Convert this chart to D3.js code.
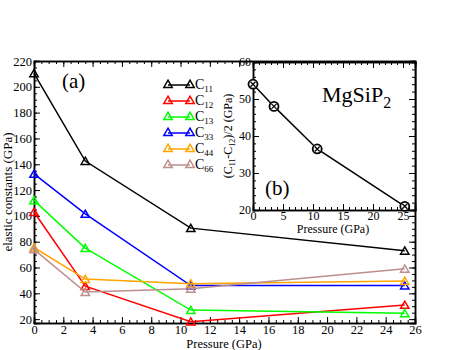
<!DOCTYPE html>
<html>
<head>
<meta charset="utf-8">
<script src="https://cdn.jsdelivr.net/npm/d3@7"></script>
<style>
  body { margin: 0; background: #fff; }
  svg, svg text { font-family: "Liberation Serif", "Times New Roman", Times, serif !important; }
</style>
</head>
<body>
<div id="chart"></div>
<script>
// main panel data (pressure in GPa, constants in GPa)
const pressure = [0, 3.5, 10.7, 25.3];
const c11 = [210.5, 142.5, 90.5, 73];
const c12 = [103, 45.5, 18, 31];
const c13 = [112, 75, 27, 24.5];
const c33 = [132.5, 101.5, 46, 46];
const c44 = [75.5, 51, 47.5, 49.5];
const c66 = [74, 41, 43.5, 59];
const seriesNames = ["11", "12", "13", "33", "44", "66"];
const seriesColors = ["#000000", "#ff0000", "#00ff00", "#0000ff", "#ffa500", "#bc8f8f"];
const xTicks = [0, 2, 4, 6, 8, 10, 12, 14, 16, 18, 20, 22, 24, 26];
const yTicks = [20, 40, 60, 80, 100, 120, 140, 160, 180, 200, 220];

// inset data
const shear = [54, 48, 36.5, 21];
const insetXTicks = [0, 5, 10, 15, 20, 25];
const insetYTicks = [20, 30, 40, 50, 60];

const width = 474, height = 350;
const svg = d3.select("#chart").append("svg")
  .attr("width", width).attr("height", height)
  .attr("font-family", "Liberation Serif");

const allSeries = [c11, c12, c13, c33, c44, c66];

const x = d3.scaleLinear().domain([0, 26]).range([34, 415]);
const y = d3.scaleLinear().domain([17, 220]).range([323, 61]);

function frameAxes(g, xs, ys, xt, yt, xMinor, yMinor, fs, xpad) {
  const [x0, x1] = xs.range(), [y0, y1] = ys.range();
  // bottom
  g.append("g").attr("transform", `translate(0,${y0})`)
    .call(d3.axisBottom(xs).tickValues(xMinor).tickSize(-3).tickFormat(""));
  g.append("g").attr("class", "lab").attr("transform", `translate(0,${y0})`)
    .call(d3.axisBottom(xs).tickValues(xt).tickSize(-6).tickPadding(xpad).tickFormat(d3.format("d")));
  // top
  g.append("g").attr("transform", `translate(0,${y1})`)
    .call(d3.axisTop(xs).tickValues(xMinor).tickSize(-3).tickFormat(""));
  g.append("g").attr("transform", `translate(0,${y1})`)
    .call(d3.axisTop(xs).tickValues(xt).tickSize(-6).tickFormat(""));
  // left
  g.append("g").attr("transform", `translate(${x0},0)`)
    .call(d3.axisLeft(ys).tickValues(yMinor).tickSize(-3).tickFormat(""));
  g.append("g").attr("class", "lab").attr("transform", `translate(${x0},0)`)
    .call(d3.axisLeft(ys).tickValues(yt).tickSize(-6).tickPadding(2).tickFormat(d3.format("d")));
  // right
  g.append("g").attr("transform", `translate(${x1},0)`)
    .call(d3.axisRight(ys).tickValues(yMinor).tickSize(-3).tickFormat(""));
  g.append("g").attr("transform", `translate(${x1},0)`)
    .call(d3.axisRight(ys).tickValues(yt).tickSize(-6).tickFormat(""));
  g.selectAll("g").attr("font-family", null);
  g.selectAll(".domain").attr("stroke", "#000").attr("stroke-width", 1.5);
  g.selectAll(".tick line").attr("stroke", "#000").attr("stroke-width", 1);
  g.selectAll(".lab text").attr("font-size", fs).attr("fill", "#000");
}

// main panel
const main = svg.append("g");
frameAxes(main, x, y, xTicks, yTicks,
  d3.range(0, 26.01, 0.5), d3.range(20, 220.01, 5), 12.5, 2);

const line = d3.line().x((d, i) => x(pressure[i])).y(d => y(d));
const tri = d3.symbol(d3.symbolTriangle).size(30);

allSeries.forEach((vals, k) => {
  main.append("path").datum(vals)
    .attr("d", line).attr("fill", "none")
    .attr("stroke", seriesColors[k]).attr("stroke-width", 1.5);
  main.selectAll(null).data(vals).enter().append("path")
    .attr("d", tri)
    .attr("transform", (d, i) => `translate(${x(pressure[i])},${y(d) + 1})`)
    .attr("fill", "none").attr("stroke", seriesColors[k]).attr("stroke-width", 1.5);
});

// legend
const legend = main.append("g");
seriesNames.forEach((n, k) => {
  const ly = 85 + k * 16;
  legend.append("line").attr("x1", 168).attr("x2", 190).attr("y1", ly).attr("y2", ly)
    .attr("stroke", seriesColors[k]).attr("stroke-width", 1.5);
  [168, 190].forEach(lx => legend.append("path").attr("d", tri)
    .attr("transform", `translate(${lx},${ly})`)
    .attr("fill", "none").attr("stroke", seriesColors[k]).attr("stroke-width", 1.5));
  const t = legend.append("text").attr("x", 195).attr("y", ly + 4).attr("font-size", 14);
  t.append("tspan").text("C");
  t.append("tspan").attr("font-size", 9).attr("dy", 3).text(n);
});

main.append("text").attr("x", 62).attr("y", 88).attr("font-size", 21).text("(a)");
main.append("text").attr("x", 224).attr("y", 348).attr("text-anchor", "middle")
  .attr("font-size", 12.5).text("Pressure (GPa)");
main.append("text").attr("transform", "translate(12,192) rotate(-90)")
  .attr("text-anchor", "middle").attr("font-size", 13).text("elastic constants (GPa)");

// inset panel
const xi = d3.scaleLinear().domain([0, 27]).range([253, 415]);
const yi = d3.scaleLinear().domain([20, 60]).range([210, 62]);
const inset = svg.append("g");
inset.append("rect").attr("x", 253).attr("y", 62).attr("width", 162).attr("height", 148)
  .attr("fill", "#fff");
frameAxes(inset, xi, yi, insetXTicks, insetYTicks,
  d3.range(0, 27.01, 1), d3.range(20, 60.01, 2), 12, 1);

const iline = d3.line().x((d, i) => xi(pressure[i])).y(d => yi(d));
inset.append("path").datum(shear).attr("d", iline)
  .attr("fill", "none").attr("stroke", "#000").attr("stroke-width", 1.5);
const cross = d3.symbol(d3.symbolTimes).size(18);
const pts = inset.selectAll(null).data(shear).enter().append("g")
  .attr("transform", (d, i) => `translate(${xi(pressure[i])},${yi(d)})`);
pts.append("circle").attr("r", 4.5).attr("fill", "#fff")
  .attr("stroke", "#000").attr("stroke-width", 1.8);
pts.append("path").attr("d", cross).attr("fill", "none")
  .attr("stroke", "#000").attr("stroke-width", 1.3);

inset.append("text").attr("x", 333).attr("y", 233).attr("text-anchor", "middle")
  .attr("font-size", 12).text("Pressure (GPa)");
const yl = inset.append("text").attr("transform", "translate(232,136) rotate(-90)")
  .attr("text-anchor", "middle").attr("font-size", 12);
yl.append("tspan").text("(C");
yl.append("tspan").attr("font-size", 8).attr("dy", 3).text("11");
yl.append("tspan").attr("dy", -3).text("-C");
yl.append("tspan").attr("font-size", 8).attr("dy", 3).text("12");
yl.append("tspan").attr("dy", -3).text(")/2 (GPa)");

inset.append("text").attr("x", 265).attr("y", 195).attr("font-size", 21).text("(b)");
const mg = inset.append("text").attr("x", 322).attr("y", 102).attr("font-size", 22);
mg.append("tspan").text("MgSiP");
mg.append("tspan").attr("font-size", 16).attr("dy", 6).text("2");
</script>
</body>
</html>
